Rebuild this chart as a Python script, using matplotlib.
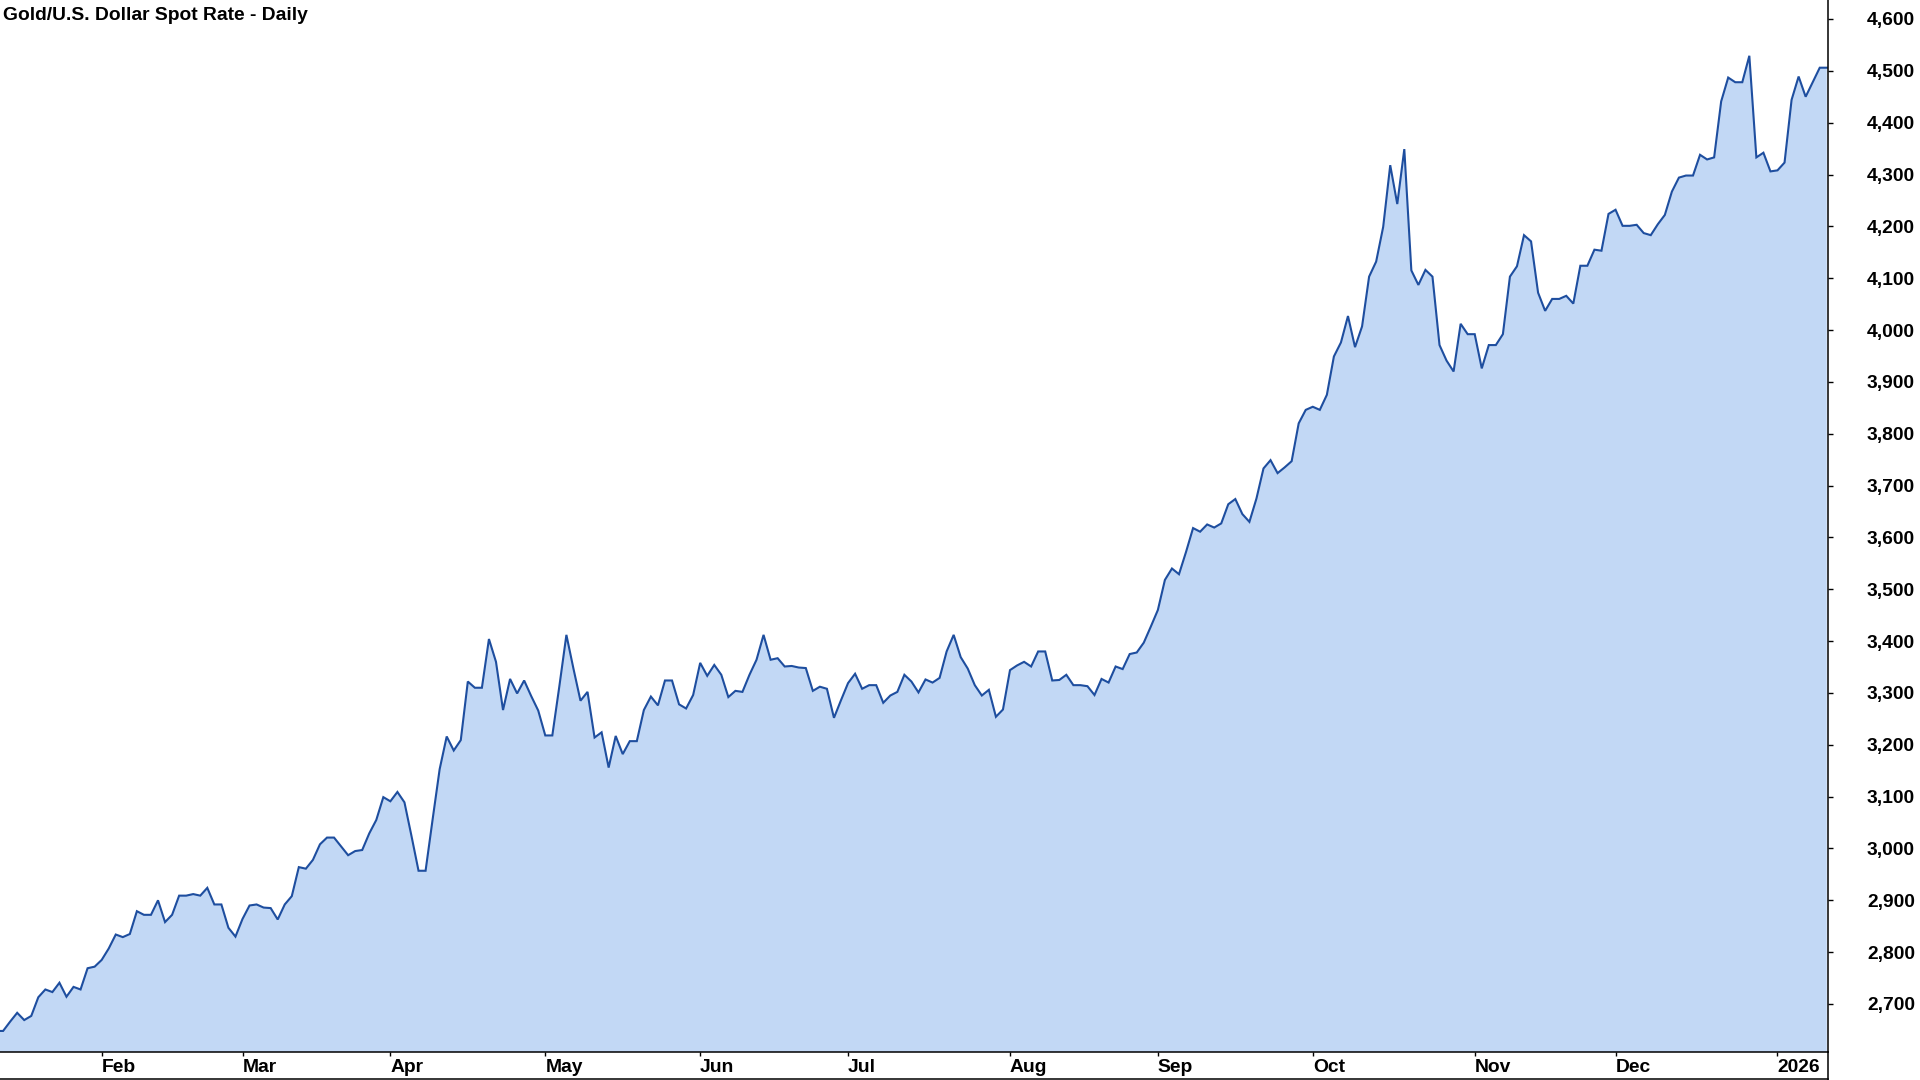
import numpy as np
import pandas as pd
import matplotlib
matplotlib.use("Agg")
import matplotlib.pyplot as plt
from matplotlib.lines import Line2D

# ---- data: daily (weekday) gold spot closes, Jan 13 2025 .. Jan 12 2026 ----
start_date = "2025-01-13"
jan_2025 = [2648, 2648, 2666, 2683, 2669, 2677, 2713, 2728, 2723, 2741, 2714, 2733, 2728, 2769, 2772]
feb_2025 = [2785, 2807, 2834, 2829, 2835, 2879, 2872, 2872, 2900, 2858, 2872, 2909, 2909, 2912, 2909,
            2924, 2892, 2892, 2847, 2830]
mar_2025 = [2864, 2890, 2892, 2886, 2885, 2863, 2892, 2908, 2964, 2961, 2978, 3008, 3021, 3021, 3004,
            2987, 2995, 2997, 3029, 3055, 3099]
apr_2025 = [3091, 3109, 3089, 3024, 2957, 2957, 3056, 3153, 3216, 3189, 3209, 3322, 3310, 3310, 3404,
            3360, 3267, 3327, 3299, 3324, 3294, 3266]
may_2025 = [3218, 3218, 3313, 3412, 3347, 3285, 3302, 3214, 3224, 3156, 3217, 3182, 3207, 3207, 3267,
            3293, 3276, 3324, 3324, 3278, 3270, 3296]
jun_2025 = [3358, 3333, 3354, 3335, 3292, 3304, 3302, 3335, 3364, 3412, 3364, 3367, 3351, 3352, 3349,
            3348, 3304, 3312, 3308, 3252, 3286]
jul_2025 = [3319, 3337, 3308, 3315, 3315, 3281, 3295, 3302, 3335, 3322, 3301, 3326, 3320, 3329, 3380,
            3412, 3369, 3347, 3315, 3295, 3306, 3254, 3268]
aug_2025 = [3344, 3353, 3360, 3351, 3380, 3380, 3324, 3325, 3335, 3315, 3315, 3313, 3296, 3327, 3320,
            3351, 3346, 3375, 3378, 3397, 3428]
sep_2025 = [3460, 3518, 3540, 3529, 3572, 3618, 3611, 3625, 3619, 3627, 3664, 3674, 3645, 3630, 3675,
            3733, 3749, 3724, 3735, 3747, 3820, 3846]
oct_2025 = [3852, 3846, 3875, 3949, 3976, 4027, 3967, 4007, 4103, 4132, 4199, 4318, 4243, 4349, 4115,
            4087, 4116, 4103, 3971, 3941, 3920, 4012, 3992]
nov_2025 = [3992, 3926, 3971, 3971, 3992, 4103, 4123, 4183, 4171, 4072, 4037, 4060, 4060, 4066, 4051,
            4124, 4124, 4155, 4153, 4224]
dec_2025 = [4232, 4201, 4201, 4203, 4187, 4183, 4204, 4222, 4267, 4294, 4298, 4298, 4338, 4329, 4333,
            4441, 4487, 4478, 4478, 4529, 4333, 4342, 4306]
jan_2026 = [4308, 4323, 4444, 4489, 4450, 4478, 4506, 4506]

y_ticks = list(range(2700, 4601, 100))
title = "Gold/U.S. Dollar Spot Rate - Daily"

prices = np.array(jan_2025 + feb_2025 + mar_2025 + apr_2025 + may_2025 + jun_2025 + jul_2025
                  + aug_2025 + sep_2025 + oct_2025 + nov_2025 + dec_2025 + jan_2026, dtype=float)
dates = pd.bdate_range(start_date, periods=len(prices))
x = np.arange(len(prices))

# month ticks at first weekday of each month
month_idx = [i for i in range(1, len(dates)) if dates[i].month != dates[i - 1].month]
month_lbl = [dates[i].strftime("%Y") if dates[i].month == 1 else dates[i].strftime("%b") for i in month_idx]

# ---- styling ----
plt.rcParams["font.family"] = ["Liberation Sans", "DejaVu Sans"]
plt.rcParams["font.weight"] = "bold"
FS = 13.9
LINE_C = "#1E4E9F"
FILL_C = "#C2D8F5"

W, H = 1920, 1080
fig = plt.figure(figsize=(W / 100, H / 100), dpi=100)
ax_right = 1827.7
ax_bottom = 1052.0
ax = fig.add_axes([0, (H - ax_bottom) / H, ax_right / W, ax_bottom / H])

ax.fill_between(x, prices, 2000, color=FILL_C, linewidth=0)
ax.plot(x, prices, color=LINE_C, lw=1.5, solid_joinstyle="miter")

feb_i = month_idx[0]
ax.set_xlim(feb_i - 14.44, feb_i + 245.13)
ax.set_ylim(2607.4, 4636.6)

ax.yaxis.tick_right()
ax.set_yticks(y_ticks)
ax.set_yticklabels([f"{v:,}" for v in y_ticks], fontsize=FS, fontweight="bold")
ax.tick_params(axis="y", direction="out", length=3.3, width=1.0, pad=25, colors="black")

ax.set_xticks(month_idx)
ax.set_xticklabels(month_lbl, fontsize=FS, fontweight="bold", ha="left")
ax.tick_params(axis="x", direction="out", length=3.0, width=1.0, pad=2.0, colors="black")

for s in ["left", "top"]:
    ax.spines[s].set_visible(False)
for s in ["right", "bottom"]:
    ax.spines[s].set_linewidth(1.1)
    ax.spines[s].set_color("black")

# frame below the axis: bottom border and right border extension
fig.add_artist(Line2D([0, ax_right / W], [0.6 / H, 0.6 / H], color="black", lw=1.1,
                      transform=fig.transFigure))
fig.add_artist(Line2D([ax_right / W, ax_right / W], [0, (H - ax_bottom) / H], color="black", lw=1.1,
                      transform=fig.transFigure))

fig.text(3 / W, 1 - 7 / H, title, fontsize=FS, fontweight="bold", ha="left", va="top")

fig.savefig("out.png", dpi=100)
